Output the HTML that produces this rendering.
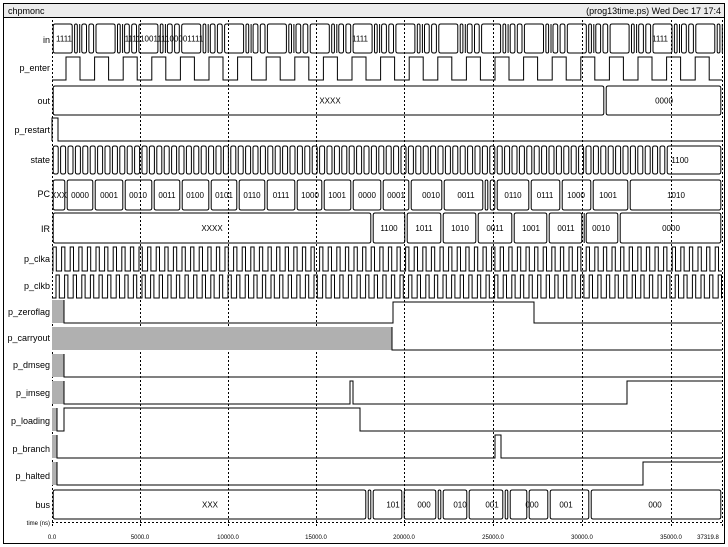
<!DOCTYPE html>
<html><head><meta charset="utf-8"><style>
body{margin:0;background:#fff;width:728px;height:547px;overflow:hidden}
svg{display:block;font-family:"Liberation Sans",sans-serif}
</style></head><body>
<svg id="s" width="728" height="547" xmlns="http://www.w3.org/2000/svg">
<rect x="3.5" y="3.5" width="721" height="540" fill="#fff" stroke="#000"/>
<rect x="4" y="4" width="720" height="13" fill="#ececec"/>
<line x1="3" y1="17.5" x2="724" y2="17.5" stroke="#000"/>
<text x="8" y="14" font-size="9">chpmonc</text>
<text x="721" y="14" font-size="9" text-anchor="end">(prog13time.ps)  Wed Dec 17 17:4</text>
<g id="g" fill="none" stroke="#000" stroke-width="1"></g>
<g id="t" font-size="8" fill="#000"></g>
</svg>
<script>
const g=document.getElementById('g'),T=document.getElementById('t');
const NS='http://www.w3.org/2000/svg';
function el(p,n,a,txt){const e=document.createElementNS(NS,n);for(const k in a)e.setAttribute(k,a[k]);if(txt!==undefined)e.textContent=txt;p.appendChild(e);return e;}
function path(d,extra){el(g,'path',Object.assign({d:d},extra||{}));}
function text(x,y,s,anchor,size){el(T,'text',{x:x,y:y,'text-anchor':anchor||'middle','font-size':size||8},s);}
const X0=52,X1=722;
const labels=[['in',43],['p_enter',71],['out',104],['p_restart',133],['state',163],['PC',197],['IR',232],['p_clka',262],['p_clkb',289],['p_zeroflag',315],['p_carryout',341],['p_dmseg',368],['p_imseg',396],['p_loading',424],['p_branch',452],['p_halted',479],['bus',508]];
labels.forEach(l=>text(50,l[1],l[0],'end',9));
text(50,525,'time (ns)','end',6);
[X0,140,228,316,404,493,582,671,X1].forEach(x=>path(`M${x+.5} 20V528`,{'stroke-dasharray':'2,2'}));
path('M52 522.5H722',{'stroke-dasharray':'2,2'});
[[52,'0.0'],[140,'5000.0'],[228,'10000.0'],[316,'15000.0'],[404,'20000.0'],[493,'25000.0'],[582,'30000.0'],[671,'35000.0'],[708,'37319.8']].forEach(a=>text(a[0],539,a[1],'middle',6));
function bus(y0,y1,edges,labs){
  let d='';
  for(let i=0;i<edges.length-1;i++){
    const a=edges[i]+1.2,b=edges[i+1]-1.2;
    if(b-a<1){d+=`M${a} ${y0}V${y1}`;continue;}
    const r=Math.min(2,(b-a)/2);
    d+=`M${a} ${y0+r}Q${a} ${y0} ${a+r} ${y0}H${b-r}Q${b} ${y0} ${b} ${y0+r}V${y1-r}Q${b} ${y1} ${b-r} ${y1}H${a+r}Q${a} ${y1} ${a} ${y1-r}Z`;
  }
  path(d);
  if(labs)labs.forEach(l=>text(l[0],(y0+y1)/2+3,l[1]));
}
{let e=[X0];let x=X0;const pat=[21,5,2,7,7];let i=0;
 while(x<X1){x+=pat[i%5]*1.02;i++;if(x<X1)e.push(+x.toFixed(1));}
 e.push(X1);bus(24,53,e,[[64,'1111'],[164,'1111100111100001111'],[360,'1111'],[660,'1111']]);}
{let d=`M${X0} 80`;const P=28.6;for(let k=0;k<24;k++){const a=X0+14+k*P,b=a+14;if(a>X1)break;d+=`H${a}V57H${Math.min(b,X1)}`;if(b<X1)d+='V80';}
 d+=`H${X1}`;path(d);}
bus(86,115,[X0,605,X1],[[330,'XXXX'],[664,'0000']]);
path(`M${X0} 141V118H58V141H${X1}`);
{let e=[X0];for(let x=X0+7.4;x<664;x+=7.4)e.push(+x.toFixed(1));e.push(666,X1);bus(146,174,e,[[680,'1100']]);}
bus(180,210,[X0,66,94,124,153,181,210,238,266,296,323,352,382,410,443,484,489,496,530,561,592,629,X1],
 [[59,'XXX'],[80,'0000'],[109,'0001'],[138,'0010'],[167,'0011'],[195,'0100'],[224,'0101'],[252,'0110'],[281,'0111'],[310,'1000'],[337,'1001'],[367,'0000'],[396,'0001'],[431,'0010'],[466,'0011'],[486,''],[513,'0110'],[545,'0111'],[576,'1000'],[608,'1001'],[676,'1010']]);
bus(213,243,[X0,372,406,442,477,513,548,583,585,619,X1],
 [[212,'XXXX'],[389,'1100'],[424,'1011'],[460,'1010'],[495,'0011'],[531,'1001'],[566,'0011'],[601,'0010'],[671,'0000']]);
function clk(y0,y1,ph){let d=`M${X0} ${y1}`;const P=8.6;for(let x=X0+ph;x<X1;x+=P){const a=x.toFixed(1),b=Math.min(x+3.3,X1).toFixed(1);d+=`H${a}V${y0}H${b}V${y1}`;}d+=`H${X1}`;path(d);}
clk(247,271,1);clk(275,298,4);
el(g,'rect',{x:X0,y:300,width:12,height:23,fill:'#b0b0b0',stroke:'none'});
path(`M64 300V323H393V302H534V323H${X1}`);
el(g,'rect',{x:X0,y:327,width:340,height:23,fill:'#b0b0b0',stroke:'none'});
path(`M392 327V350H${X1}`);
el(g,'rect',{x:X0,y:354,width:12,height:23,fill:'#b0b0b0',stroke:'none'});
path(`M64 354V377H${X1}`);
el(g,'rect',{x:X0,y:381,width:12,height:23,fill:'#b0b0b0',stroke:'none'});
path(`M64 381V404H350V381H353V404H627V381H${X1}`);
el(g,'rect',{x:X0,y:408,width:5,height:23,fill:'#b0b0b0',stroke:'none'});
path(`M57 408V431H64V408H360V431H${X1}`);
el(g,'rect',{x:X0,y:435,width:5,height:23,fill:'#b0b0b0',stroke:'none'});
path(`M57 435V458H495V435H501V458H${X1}`);
el(g,'rect',{x:X0,y:462,width:5,height:23,fill:'#b0b0b0',stroke:'none'});
path(`M57 462V485H643V462H${X1}`);
bus(490,519,[X0,367,372,403,437,442,468,504,509,528,549,590,X1],
 [[210,'XXX'],[393,'101'],[424,'000'],[460,'010'],[492,'001'],[532,'000'],[566,'001'],[655,'000']]);
</script>
</body></html>
